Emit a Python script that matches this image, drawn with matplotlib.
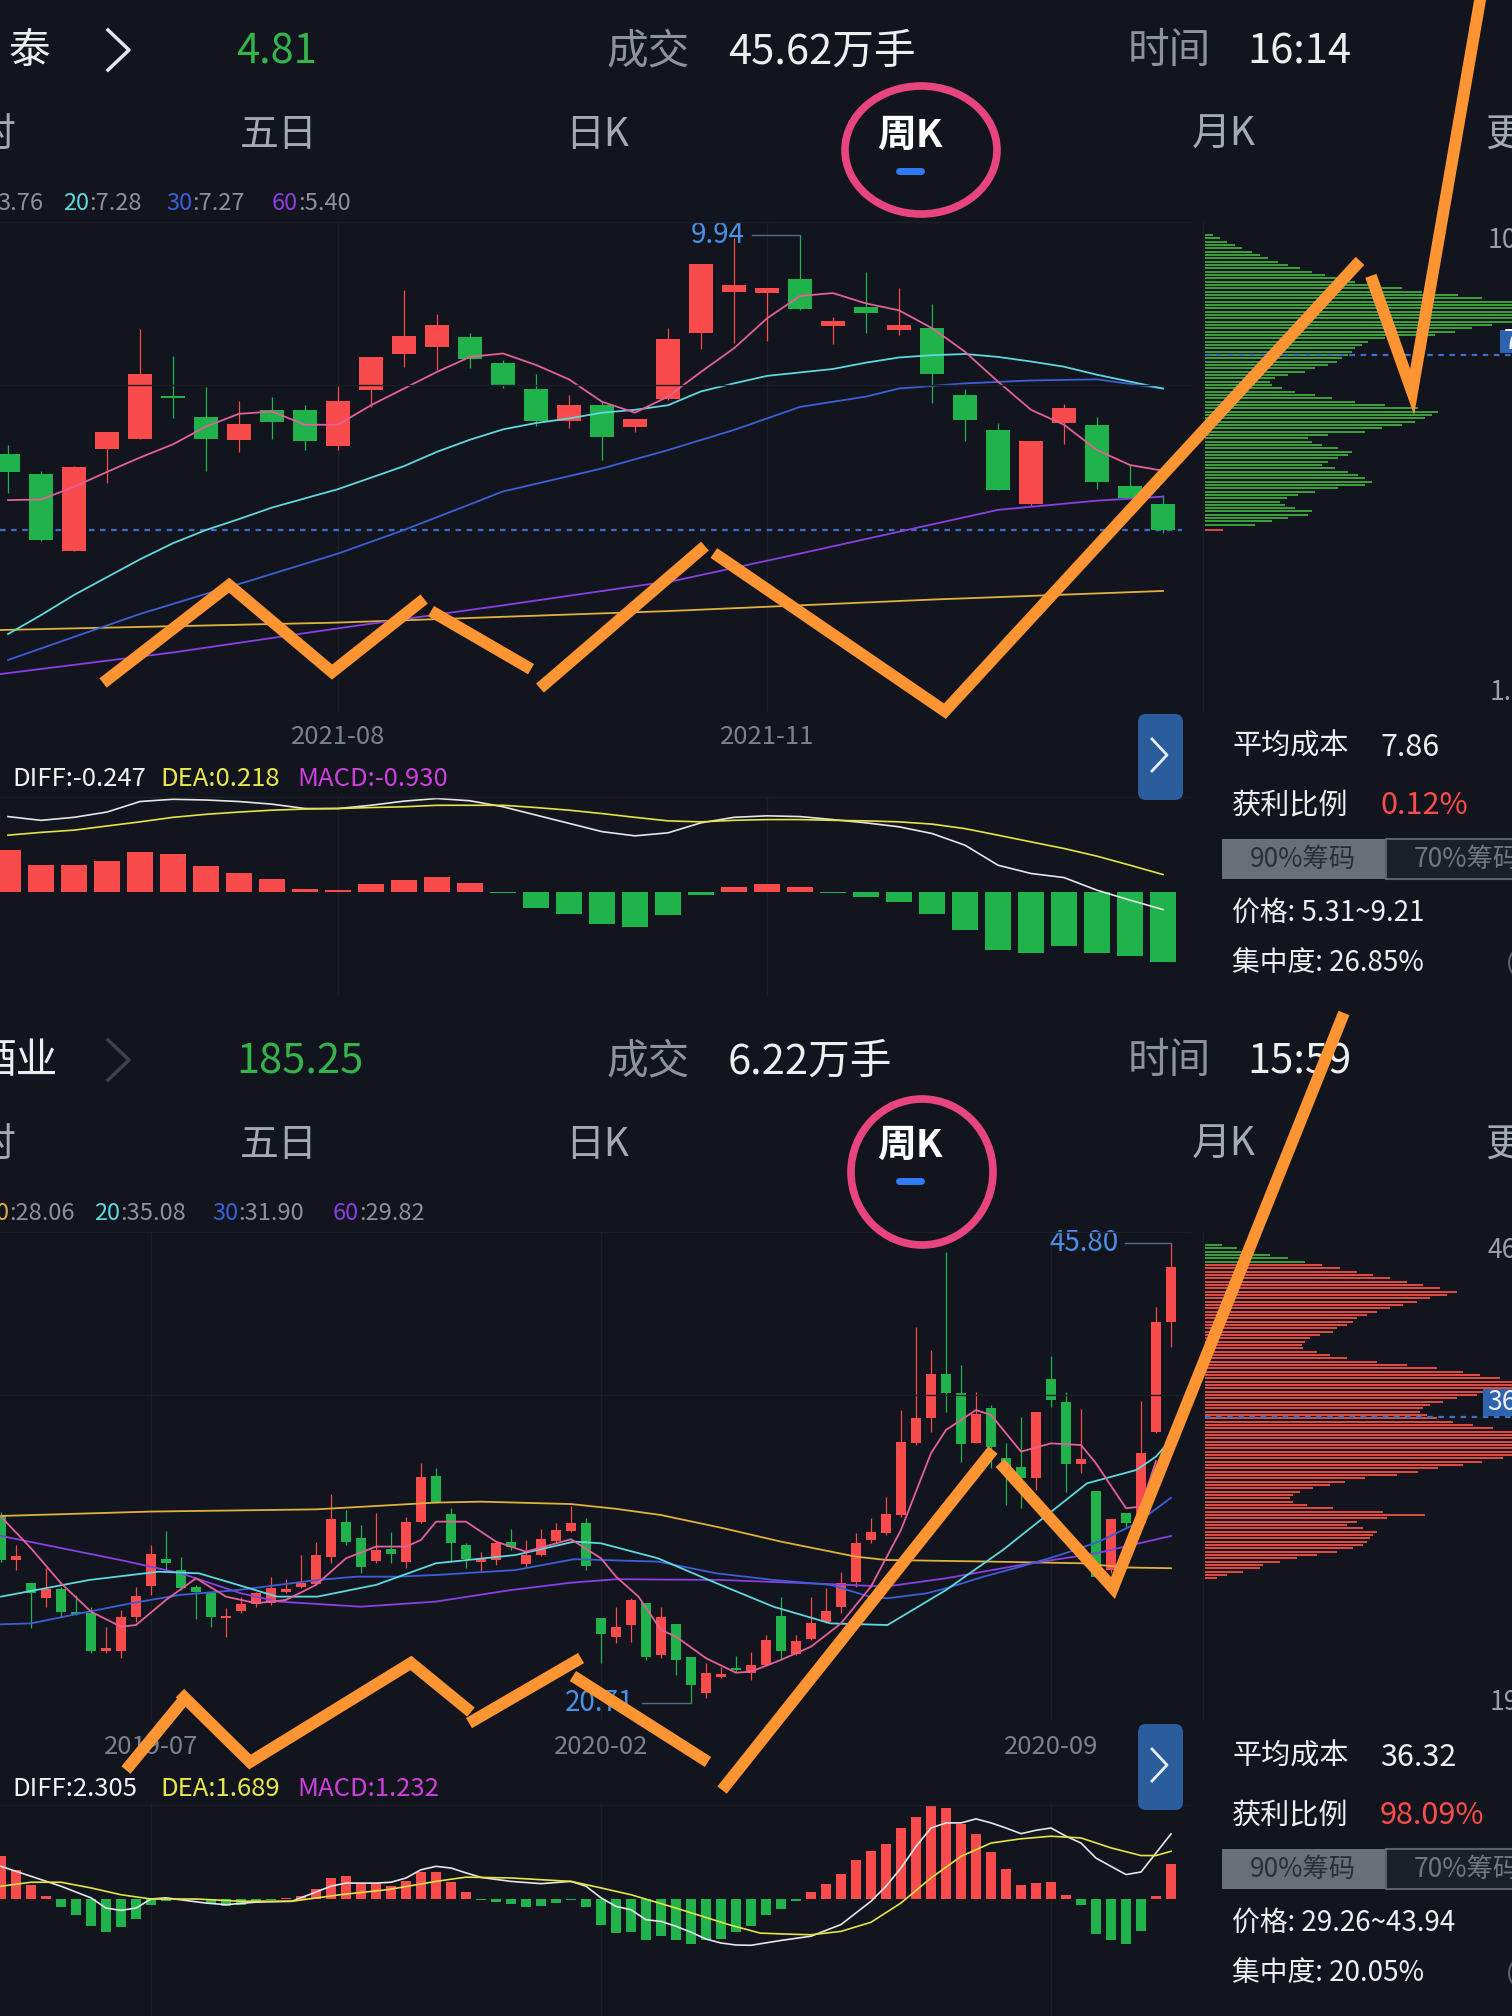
import numpy as np
import matplotlib
matplotlib.use("Agg")
import matplotlib.pyplot as plt
from matplotlib.patches import Ellipse, Rectangle, FancyBboxPatch, Circle
from matplotlib.transforms import blended_transform_factory

plt.rcParams['font.family'] = ['Noto Sans CJK SC', 'DejaVu Sans']

W, H = 1512, 2016
BG = '#12151d'
RED = '#f94a4c'
GREEN = '#20b24b'
GRID = '#1b1f28'
GRAY = '#8e929b'
WHITE = '#eeeeee'
ORANGE = '#ff9433'
PINK_C = '#e8457e'
MA_PINK, MA_CYAN, MA_BLUE, MA_PURPLE, MA_GOLD = '#e3609b', '#5fd8e0', '#3c5fd8', '#8a3fe4', '#e2b03c'

# ---------------- top stock, weekly candles ----------------
top_open = [6.14, 5.78, 4.45, 6.21, 6.39, 7.13, 6.77, 6.38, 6.89, 6.90, 6.27, 7.24, 7.87, 7.99, 8.16, 7.71, 7.27, 6.71,
            6.98, 6.60, 7.08, 8.24, 8.95, 8.94, 9.18, 8.36, 8.69, 8.28, 8.33, 7.16, 6.55, 5.27, 6.67, 6.64, 5.58, 5.27]
top_high = [6.29, 5.84, 5.93, 6.51, 8.31, 7.84, 7.29, 7.05, 7.13, 6.99, 7.32, 7.81, 8.99, 8.57, 8.23, 7.77, 7.53, 7.15,
            7.04, 6.74, 8.32, 9.43, 9.88, 9.02, 9.94, 8.52, 9.30, 9.01, 8.74, 7.27, 6.67, 6.35, 7.00, 6.77, 5.94, 5.41]
top_low = [5.45, 4.62, 4.45, 5.62, 6.39, 6.75, 5.83, 6.16, 6.39, 6.20, 6.20, 6.95, 7.65, 7.59, 7.63, 7.28, 6.61, 6.58,
           6.03, 6.52, 7.07, 7.95, 8.06, 8.09, 8.64, 8.04, 8.24, 8.20, 7.01, 6.36, 5.51, 5.23, 6.30, 5.52, 5.37, 4.75]
top_close = [5.82, 4.64, 5.91, 6.51, 7.52, 7.10, 6.39, 6.65, 6.69, 6.36, 7.06, 7.81, 8.18, 8.37, 7.78, 7.33, 6.71, 6.98,
             6.42, 6.74, 8.13, 9.43, 9.07, 9.02, 8.65, 8.44, 8.58, 8.37, 7.52, 6.72, 5.51, 6.35, 6.94, 5.64, 5.37, 4.81]

top_ma5 = [5.33, 5.34, 5.56, 5.82, 6.07, 6.30, 6.61, 6.83, 6.87, 6.64, 6.64, 6.98, 7.27, 7.56, 7.82, 7.88, 7.68, 7.43,
           7.04, 6.85, 7.13, 7.56, 7.97, 8.49, 8.88, 8.93, 8.75, 8.63, 8.32, 7.91, 7.39, 6.90, 6.64, 6.20, 5.94, 5.84]
top_ma20 = [3.00, 3.33, 3.68, 3.99, 4.30, 4.58, 4.81, 5.00, 5.20, 5.36, 5.52, 5.72, 5.92, 6.17, 6.38, 6.56, 6.67, 6.75,
            6.85, 6.90, 6.98, 7.22, 7.36, 7.49, 7.55, 7.61, 7.72, 7.81, 7.85, 7.87, 7.82, 7.74, 7.65, 7.51, 7.39, 7.27]
top_ma30 = [(0, 2.55), (2, 2.95), (4, 3.35), (6, 3.70), (7.4, 3.94), (10, 4.40), (12, 4.81), (15, 5.48), (18, 5.88),
            (20, 6.20), (22, 6.55), (24, 6.95), (26, 7.13), (27, 7.27), (29, 7.36), (31, 7.41), (33, 7.43), (35, 7.27)]
top_ma60 = [(-0.3, 2.30), (5, 2.68), (10, 3.10), (15, 3.50), (20.3, 3.94), (24, 4.40), (27, 4.78), (30, 5.16),
            (33, 5.32), (35, 5.39)]
top_ma_long = [(-0.3, 3.07), (10, 3.20), (20, 3.40), (28, 3.60), (35, 3.75)]

top_hist = [0.562, 0.354, 0.363, 0.407, 0.523, 0.50, 0.35, 0.257, 0.168, 0.044, 0.031, 0.102, 0.164, 0.199, 0.12,
            -0.013, -0.208, -0.297, -0.43, -0.465, -0.31, -0.044, 0.058, 0.10, 0.058, -0.013, -0.066, -0.133,
            -0.288, -0.50, -0.766, -0.806, -0.722, -0.806, -0.855, -0.930]
top_diff = [1.00, 0.95, 0.99, 1.06, 1.20, 1.23, 1.22, 1.20, 1.165, 1.107, 1.107, 1.15, 1.205, 1.24, 1.21, 1.13, 1.02,
            0.91, 0.80, 0.744, 0.784, 0.917, 0.99, 1.01, 1.00, 0.96, 0.917, 0.864, 0.775, 0.62, 0.354, 0.244, 0.19,
            0.022, -0.11, -0.235]
top_dea = [0.753, 0.79, 0.82, 0.875, 0.93, 0.99, 1.03, 1.06, 1.085, 1.10, 1.107, 1.12, 1.13, 1.15, 1.15, 1.15, 1.12,
           1.085, 1.04, 0.99, 0.943, 0.93, 0.95, 0.96, 0.96, 0.95, 0.943, 0.93, 0.90, 0.84, 0.753, 0.664, 0.576,
           0.474, 0.354, 0.23]

top_chip_hi, top_chip_lo = 9.94, 4.90
top_chip_w = [25, 45, 65, 90, 110, 140, 165, 190, 220, 250, 285, 320, 360, 400, 450, 520, 590, 650, 760, 830,
              950, 1000, 1000, 990, 980, 960, 920, 860, 800, 750, 690, 540, 490, 470, 450, 440, 430, 410, 395, 370,
              330, 300, 250, 210, 195, 200, 230, 270, 330, 380, 450, 540, 640, 700, 680, 660, 630, 590, 530, 480,
              370, 310, 320, 350, 400, 440, 430, 400, 370, 350, 390, 430, 460, 480, 500, 480, 400, 330, 280, 245,
              225, 240, 270, 320, 310, 250, 200, 150]
top_last, top_avg = 4.81, 7.86
top_dates, top_date_idx = ['2021-08', '2021-11'], [10, 23]

# ---------------- bottom stock, weekly candles ----------------
bot_open = [30.96, 28.51, 27.27, 26.42, 26.91, 25.64, 25.60, 23.56, 23.56, 25.38, 27.09, 28.56, 27.96, 27.05, 26.69,
            25.33, 25.75, 26.11, 26.15, 26.75, 27.02, 27.20, 28.69, 30.60, 29.69, 28.47, 29.09, 28.42, 30.60, 33.11,
            31.02, 29.33, 28.42, 28.51, 29.51, 28.29, 28.78, 29.56, 30.09, 30.55, 25.33, 24.33, 24.96, 26.15, 23.33,
            25.00, 23.24, 21.24, 22.11, 22.60, 22.33, 22.78, 25.47, 23.38, 24.18, 25.15, 25.93, 27.33, 29.60, 30.00,
            30.96, 34.87, 36.24, 38.64, 37.60, 34.91, 36.78, 34.09, 33.60, 32.99, 38.38, 37.11, 33.73, 32.27, 27.96,
            31.06, 30.51, 35.51, 41.51]
bot_high = [31.15, 29.33, 27.27, 28.06, 27.06, 26.60, 25.96, 24.87, 25.78, 27.06, 29.33, 30.11, 28.69, 27.15, 26.78,
            25.87, 26.51, 26.78, 27.60, 27.46, 28.78, 29.51, 32.09, 31.24, 30.42, 31.06, 30.06, 30.84, 33.78, 33.51,
            31.33, 29.42, 28.96, 29.51, 30.18, 29.60, 30.18, 30.51, 31.46, 30.78, 25.33, 25.96, 26.42, 26.15, 25.96,
            25.00, 23.24, 22.87, 22.69, 23.27, 23.51, 24.42, 26.51, 24.42, 26.51, 26.96, 27.87, 29.96, 30.78, 31.96,
            36.69, 41.24, 39.96, 45.33, 39.15, 37.69, 36.96, 34.87, 36.33, 36.56, 39.64, 37.66, 36.73, 32.27, 30.75,
            31.06, 37.18, 42.33, 45.80]
bot_low = [28.42, 27.96, 24.78, 25.96, 25.42, 25.51, 23.42, 23.46, 23.15, 25.15, 26.60, 27.96, 26.87, 25.27, 24.87,
           24.33, 25.60, 25.96, 26.06, 26.69, 26.96, 27.15, 28.33, 29.33, 27.82, 28.36, 28.33, 28.06, 30.51, 31.60,
           28.42, 28.06, 27.87, 28.24, 29.06, 28.15, 28.73, 29.42, 30.06, 27.96, 22.87, 23.96, 24.05, 23.06, 23.15,
           22.24, 20.71, 20.96, 22.05, 22.42, 21.96, 22.73, 23.06, 23.33, 24.15, 25.05, 25.60, 27.06, 29.42, 29.87,
           30.87, 34.78, 35.51, 36.60, 33.87, 34.87, 33.51, 31.51, 31.33, 32.33, 36.87, 32.24, 33.24, 27.60, 27.78,
           30.24, 30.15, 35.42, 40.15]
bot_close = [28.51, 28.73, 26.73, 26.91, 25.69, 25.56, 23.56, 23.69, 25.42, 26.56, 28.84, 28.36, 26.96, 26.78, 25.42,
             25.42, 26.11, 26.69, 26.96, 26.93, 27.27, 28.78, 30.73, 29.51, 28.11, 29.06, 28.84, 30.60, 33.06, 31.69,
             29.46, 28.55, 28.60, 29.42, 29.20, 28.78, 29.64, 30.15, 30.51, 28.18, 24.47, 24.87, 26.33, 23.24, 25.42,
             23.06, 21.69, 22.33, 22.27, 22.51, 22.78, 24.15, 23.56, 24.11, 25.09, 25.73, 27.24, 29.42, 30.06, 31.02,
             34.93, 36.24, 38.64, 37.60, 34.82, 36.47, 34.69, 33.42, 32.96, 36.56, 37.24, 33.73, 34.00, 27.60, 30.75,
             30.51, 34.36, 41.47, 44.51]

bot_ma5 = [(0, 30.87), (2, 29.15), (4, 27.24), (6, 25.69), (8, 24.87), (9, 24.96), (11, 26.33), (13, 27.51),
           (15, 26.51), (17, 26.15), (19, 26.33), (21, 27.15), (23, 28.60), (25, 29.24), (27, 29.24), (28, 29.60),
           (29, 30.60), (31, 30.60), (33, 29.51), (35, 28.96), (38, 29.64), (40, 28.60), (41, 27.60), (42.5, 26.51),
           (44, 24.69), (45, 24.33), (47, 23.15), (49, 22.36), (50, 22.42), (52, 23.06), (54, 23.78), (56, 25.05),
           (58, 27.06), (60, 30.15), (62, 34.33), (63, 35.60), (65, 36.69), (66, 36.42), (68, 34.42), (70, 34.87),
           (72, 34.78), (73, 33.78), (75, 31.33), (76, 31.42), (77, 33.90)]
bot_ma20 = [(0, 26.51), (5.9, 27.42), (10.5, 27.87), (13.2, 27.78), (15.8, 27.15), (18.4, 26.51), (21.1, 26.51),
            (25, 27.15), (29, 28.33), (34.3, 28.78), (38.2, 29.51), (40, 29.42), (43.8, 28.60), (47.7, 27.24),
            (51.5, 25.96), (55.3, 25.05), (59.1, 24.96), (63, 26.87), (66.8, 29.06), (72.4, 32.69), (75.7, 33.42),
            (77, 34.15), (78, 35.08)]
bot_ma30 = [(0, 25.00), (2, 25.05), (5.3, 25.60), (8.7, 26.15), (11.9, 26.60), (15.8, 26.87), (21.1, 27.42),
            (23.7, 27.60), (26.4, 27.60), (29, 27.69), (34.3, 27.96), (38.2, 28.55), (40, 28.51), (43.8, 28.42),
            (47.7, 27.78), (51.5, 27.42), (55.3, 27.15), (57.9, 26.51), (59.1, 26.42), (61.7, 26.69), (63, 26.96),
            (65.5, 27.60), (68, 28.15), (70.6, 28.78), (73.2, 29.51), (75.7, 30.51), (78, 31.90)]
bot_ma60 = [(0, 29.82), (8, 28.50), (12, 27.78), (16, 26.69), (18.5, 26.24), (24, 25.96), (29, 26.24), (34, 26.87),
            (38, 27.27), (41, 27.46), (48, 27.42), (55, 27.20), (59, 27.06), (63, 27.51), (68, 28.24), (73, 28.87),
            (78, 29.82)]
bot_ma_long = [(0, 30.91), (10, 31.15), (21, 31.27), (29, 31.64), (32, 31.69), (38, 31.56), (41, 31.30),
               (44, 30.96), (48, 30.27), (52, 29.51), (57, 28.69), (59, 28.51), (66, 28.42), (72, 28.33),
               (75, 28.10), (78, 28.06)]

bot_hist = [1.50, 1.03, 0.48, 0.12, -0.29, -0.55, -0.96, -1.16, -1.00, -0.70, -0.20, -0.06, 0.01, -0.03, -0.14,
            -0.26, -0.20, -0.14, -0.05, 0.04, 0.12, 0.36, 0.74, 0.80, 0.56, 0.56, 0.45, 0.62, 0.94, 0.95, 0.60,
            0.23, -0.02, -0.12, -0.18, -0.29, -0.23, -0.14, -0.04, -0.29, -0.90, -1.20, -1.17, -1.43, -1.29, -1.43,
            -1.57, -1.43, -1.41, -1.17, -0.95, -0.55, -0.35, -0.06, 0.23, 0.53, 0.89, 1.36, 1.70, 1.95, 2.50, 2.89,
            3.26, 3.20, 2.64, 2.30, 1.65, 1.07, 0.48, 0.55, 0.61, 0.13, -0.20, -1.22, -1.46, -1.58, -1.14, 0.12, 1.23]
bot_diff = [(0, 1.15), (2, 0.80), (4, 0.45), (6, 0.04), (7, -0.32), (8, -0.40), (9, -0.32), (10, 0.0), (11, 0.04),
            (13.6, -0.14), (15, -0.20), (17, -0.11), (19.4, -0.08), (22, 0.45), (23, 0.56), (25, 0.56), (26, 0.59),
            (27, 0.74), (28, 1.03), (29, 1.15), (30, 1.09), (31, 0.92), (32, 0.76), (34, 0.62), (36, 0.54),
            (38, 0.62), (39, 0.45), (40, 0.04), (41, -0.26), (42, -0.38), (43, -0.73), (44, -0.79), (45, -0.96),
            (46, -1.17), (47, -1.41), (48, -1.55), (49, -1.62), (50, -1.63), (52, -1.46), (54, -1.31), (56, -0.90),
            (57, -0.49), (58, -0.08), (59, 0.45), (60, 1.09), (61, 1.85), (62, 2.50), (63, 2.68), (64, 2.68),
            (65, 2.82), (66, 2.68), (67, 2.50), (68, 2.30), (69, 2.42), (70, 2.50), (71, 2.21), (72, 1.97),
            (73, 1.44), (74, 1.15), (75, 0.86), (76, 0.95), (77, 1.62), (78, 2.29)]
bot_dea = [(0, 0.45), (2, 0.59), (4, 0.59), (6, 0.39), (8, 0.15), (10, 0.0), (13, 0.0), (16, -0.08), (19.4, -0.08),
           (22.6, 0.15), (25.8, 0.33), (29, 0.62), (31, 0.77), (34, 0.74), (38, 0.62), (40, 0.39), (42, 0.15),
           (45, -0.32), (48.5, -0.90), (50.6, -1.20), (52, -1.23), (54, -1.26), (56, -1.14), (58, -0.82),
           (60, -0.14), (62, 0.74), (64, 1.50), (66, 1.97), (68, 2.12), (70, 2.21), (72, 2.15), (74, 1.80),
           (76, 1.53), (77, 1.53), (78, 1.68)]

bot_chip_hi, bot_chip_lo = 45.69, 27.51
bot_chip_w = [50, 95, 145, 195, 250, 300, 350, 405, 455, 505, 555, 605, 655, 705, 755, 725, 675, 635, 595, 555,
              515, 485, 455, 445, 425, 395, 385, 345, 315, 300, 290, 295, 335, 375, 425, 515, 605, 695, 775, 825,
              885, 1000, 1050, 1000, 900, 815, 755, 715, 675, 655, 645, 665, 695, 745, 805, 865, 950, 1000, 1050, 1050,
              1050, 1000, 950, 920, 895, 830, 775, 700, 640, 575, 480, 420, 375, 325, 285, 265, 255, 265, 305, 385,
              535, 660, 545, 455, 425, 475, 515, 505, 495, 485, 475, 445, 395, 335, 275, 225, 175, 165, 115, 65, 35]
bot_chip_green = 6
bot_avg = 36.32
bot_dates, bot_date_idx = ['2019-07', '2020-02', '2020-09'], [10, 40, 70]

# hand drawn orange strokes, in (candle index, price) of each chart
top_strokes = [[(2.88, 2.15), (6.70, 3.85), (9.82, 2.34), (12.61, 3.61)],
               [(12.82, 3.40), (15.85, 2.39)],
               [(16.12, 2.06), (21.12, 4.53)],
               [(21.39, 4.41), (28.39, 1.66), (40.97, 9.49)],
               [(41.30, 9.23), (42.55, 7.21), (44.64, 14.13)]]
bot_strokes = [[(8.33, 17.05), (12.33, 21.03)],
               [(11.93, 21.25), (16.6, 17.49), (27.33, 22.89), (31.33, 20.21)],
               [(31.2, 19.61), (38.67, 23.16)],
               [(38.13, 22.18), (47.13, 17.49)],
               [(48.07, 15.96), (66.13, 34.51)],
               [(66.6, 33.80), (74.13, 26.98), (89.53, 58.35)]]

# ---------------- figure ----------------
fig = plt.figure(figsize=(W / 100, H / 100), dpi=100, facecolor=BG)


def px_axes(x0, y0, x1, y1, z):
    ax = fig.add_axes([x0 / W, 1 - y1 / H, (x1 - x0) / W, (y1 - y0) / H])
    ax.set_axis_off()
    ax.set_zorder(z)
    return ax


def draw_candles(ax, o, h, l, c, width):
    o, h, l, c = (np.asarray(v, float) for v in (o, h, l, c))
    x = np.arange(len(o))
    cols = np.where(c >= o, RED, GREEN)
    ax.vlines(x, l, h, colors=cols, linewidth=0.9, zorder=2)
    lo, hi = ax.get_ylim()
    body = np.maximum(np.abs(c - o), (hi - lo) * 0.004)
    ax.bar(x, body, width, np.minimum(o, c), color=cols, linewidth=0, zorder=3)


def draw_line(ax, pts, color, lw=1.3):
    if isinstance(pts[0], tuple):
        xs, ys = zip(*pts)
    else:
        xs, ys = np.arange(len(pts)), pts
    ax.plot(xs, ys, color=color, lw=lw, zorder=4)


def draw_chips(ax, hi, lo, widths, cols):
    y = np.linspace(hi, lo, len(widths))
    step = (hi - lo) / (len(widths) - 1)
    ax.barh(y, widths, height=step * 0.6, left=0, color=cols, linewidth=0)


def draw_macd(ax, hist, diff, dea, width):
    hist = np.asarray(hist)
    x = np.arange(len(hist))
    ax.bar(x, hist, width, color=np.where(hist >= 0, RED, GREEN), linewidth=0)
    draw_line(ax, diff, '#e6e6e6', 1.2)
    draw_line(ax, dea, '#e4e447', 1.2)


# --- top panel axes
ax1 = px_axes(0, 222, 1190, 712, 2)
ax1.set_xlim(-8 / 33, 1182 / 33)
ax1.set_ylim(1.645, 10.166)
axc1 = px_axes(1205, 222, 1512, 712, 1)
axc1.set_xlim(0, 921)
axc1.set_ylim(1.645, 10.166)
axm1 = px_axes(0, 797, 1190, 995, 2)
axm1.set_xlim(-8 / 33, 1182 / 33)
axm1.set_ylim(-1.37, 1.26)

# --- bottom panel axes
ax2 = px_axes(0, 1232, 1190, 1720, 2)
ax2.set_xlim(-1 / 15, 1189 / 15)
ax2.set_ylim(19.78, 46.40)
axc2 = px_axes(1205, 1232, 1512, 1720, 1)
axc2.set_xlim(0, 921)
axc2.set_ylim(19.78, 46.40)
axm2 = px_axes(0, 1803, 1190, 2016, 2)
axm2.set_xlim(-1 / 15, 1189 / 15)
axm2.set_ylim(-4.12, 3.38)

for ax, idxs in ((ax1, top_date_idx), (axm1, top_date_idx), (ax2, bot_date_idx), (axm2, bot_date_idx)):
    for i in idxs:
        ax.axvline(i, color=GRID, lw=1, zorder=0)

# candles, MAs
draw_candles(ax1, top_open, top_high, top_low, top_close, 0.74)
for pts, col in ((top_ma_long, MA_GOLD), (top_ma60, MA_PURPLE), (top_ma30, MA_BLUE), (top_ma20, MA_CYAN),
                 (top_ma5, MA_PINK)):
    draw_line(ax1, pts, col)
ax1.axhline(top_last, xmax=0.993, color='#3f6fc2', lw=1.6, ls=(0, (2.5, 2.5)), zorder=1)
ax1.text(22.33, 9.94, '9.94', color='#4b8fe6', fontsize=20, ha='right', va='center')
ax1.plot([22.55, 24], [9.94, 9.94], color='#56698f', lw=1)

draw_candles(ax2, bot_open, bot_high, bot_low, bot_close, 0.66)
for pts, col in ((bot_ma_long, MA_GOLD), (bot_ma60, MA_PURPLE), (bot_ma30, MA_BLUE), (bot_ma20, MA_CYAN),
                 (bot_ma5, MA_PINK)):
    draw_line(ax2, pts, col)
ax2.text(74.5, 45.80, '45.80', color='#4b8fe6', fontsize=20, ha='right', va='center')
ax2.plot([74.9, 78], [45.80, 45.80], color='#56698f', lw=1)
ax2.text(42.2, 20.71, '20.71', color='#4b8fe6', fontsize=20, ha='right', va='center')
ax2.plot([42.7, 46], [20.71, 20.71], color='#56698f', lw=1)

# chips
draw_chips(axc1, top_chip_hi, top_chip_lo, top_chip_w, '#3b9d3a')
axc1.barh([top_last], [55], height=0.035, color='#d9463f', linewidth=0)
axc1.axhline(top_avg, color='#3f6fc2', lw=1.6, ls=(0, (2.5, 2.5)))
n_red = len(bot_chip_w) - bot_chip_green
draw_chips(axc2, bot_chip_hi, bot_chip_lo, bot_chip_w, ['#3b9d3a'] * bot_chip_green + ['#dc4a40'] * n_red)
axc2.axhline(bot_avg, color='#3f6fc2', lw=1.6, ls=(0, (2.5, 2.5)))

# macd
draw_macd(axm1, top_hist, list(top_diff), list(top_dea), 0.76)
draw_macd(axm2, bot_hist, bot_diff, bot_dea, 0.64)

# ---------------- overlay (pixel coordinates) ----------------
ov = fig.add_axes([0, 0, 1, 1])
ov.set_xlim(0, W)
ov.set_ylim(H, 0)
ov.set_axis_off()
ov.set_zorder(10)

for y in (222, 385, 797, 1232, 1395, 1805):
    ov.plot([0, 1190], [y, y], color=GRID, lw=1, zorder=0)
for y0, y1 in ((222, 712), (1232, 1720)):
    ov.plot([1203, 1203], [y0, y1], color=GRID, lw=1, zorder=0)


def put(x, y, s, size, color, ha='left', weight='normal'):
    return ov.text(x, y, s, fontsize=size, color=color, ha=ha, va='center', weight=weight, zorder=3)


def put_seq(x, y, parts, size):
    r = fig.canvas.get_renderer()
    for s, col in parts:
        t = put(x, y, s, size, col)
        x += t.get_window_extent(renderer=r).width


def panel(dy, name, name_x, name_col, price, vol, tm, legend, diffs, dates_idx, dates, axp, avg, profit, rng,
          conc, lab_top, lab_bot, tag):
    # header row
    put(name_x, 52 + dy, name, 30, WHITE, ha='right')
    ov.plot([108, 129, 108], [30 + dy, 50 + dy, 70 + dy], color=name_col, lw=2.5, zorder=3)
    put(236, 52 + dy, price, 30, '#33b34a')
    put(607, 52 + dy, '成交', 30, GRAY)
    put(728, 52 + dy, vol, 30, WHITE)
    put(1128, 52 + dy, '时间', 30, GRAY)
    put(1247, 52 + dy, tm, 30, WHITE)
    # tabs
    put(16, 135 + dy, '时', 28, '#a5a9b1', ha='right')
    for s, x in (('五日', 279), ('日K', 597), ('月K', 1224)):
        put(x, 135 + dy, s, 28, '#a5a9b1', ha='center')
    put(910, 135 + dy, '周K', 28, '#ffffff', ha='center', weight='bold')
    put(1485, 135 + dy, '更', 28, '#a5a9b1')
    ov.plot([899, 921], [171 + dy, 171 + dy], color='#2f7cf6', lw=5, solid_capstyle='round', zorder=3)
    # MA legend
    for x, parts in legend:
        put_seq(x, 204 + dy, parts, 17)
    # right axis labels
    put(1488, 240 + dy, lab_top, 19, '#9a9ea6')
    put(1490, 692 + dy, lab_bot, 19, '#9a9ea6')
    # date labels
    tr = blended_transform_factory(axp.transData, ov.transData)
    for i, s in zip(dates_idx, dates):
        ov.text(i, 737 + dy, s, fontsize=18.5, color='#7c818b', ha='center', va='center', transform=tr, zorder=3)
    # macd legend
    for x, s, col in zip((12, 160, 297), diffs, ('#f2f2f2', '#e8e84a', '#cf3fe0')):
        put(x, 779 + dy, s, 18.5, col)
    # blue arrow button
    ov.add_patch(FancyBboxPatch((1138, 714 + dy), 45, 86, boxstyle='round,pad=0,rounding_size=8',
                                fc='#2b5d9c', ec='none', zorder=3))
    ov.plot([1152, 1167, 1152], [739 + dy, 755 + dy, 771 + dy], color='#e8eef8', lw=2, zorder=4)
    # avg cost tag
    ov.add_patch(Rectangle((tag[0], tag[1] + dy), 60, tag[2], fc='#2e63b0', ec='none', zorder=3))
    put(tag[0] + 4, tag[1] + dy + tag[2] / 2, tag[3], 19, WHITE)
    # right info panel
    put(1232, 747 + dy, '平均成本', 21, WHITE)
    put(1380, 747 + dy, avg, 22, WHITE)
    put(1232, 805 + dy, '获利比例', 21, WHITE)
    put(1380, 805 + dy, profit, 22, '#ff4b4b')
    ov.add_patch(Rectangle((1222, 839 + dy), 164, 40, fc='#6a6e77', ec='none', zorder=2))
    ov.add_patch(Rectangle((1386, 839 + dy), 140, 40, fc='#1b1f28', ec='#5c6069', lw=1.5, zorder=2))
    put(1303, 859 + dy, '90%筹码', 19, '#2a2e36', ha='center')
    put(1414, 859 + dy, '70%筹码', 19, '#72767e')
    put(1232, 913 + dy, rng, 20, WHITE)
    put(1232, 963 + dy, conc, 20, WHITE)
    ov.add_patch(Circle((1526, 963 + dy), 17, fill=False, ec='#5c6069', lw=1.5, zorder=3))


panel(0, '泰', 50, '#e6e6e6', '4.81', '45.62万手', '16:14',
      [(-3, [('3.76', GRAY)]), (63, [('20', MA_CYAN), (':7.28', GRAY)]),
       (166, [('30', MA_BLUE), (':7.27', GRAY)]), (272, [('60', MA_PURPLE), (':5.40', GRAY)])],
      ['DIFF:-0.247', 'DEA:0.218', 'MACD:-0.930'], top_date_idx, top_dates, ax1,
      '7.86', '0.12%', '价格: 5.31~9.21', '集中度: 26.85%', '10.17', '1.65', (1500, 330, 23, '7.86'))

panel(1010, '酒业', 58, '#3d424c', '185.25', '6.22万手', '15:59',
      [(-4, [('0', MA_GOLD), (':28.06', GRAY)]), (94, [('20', MA_CYAN), (':35.08', GRAY)]),
       (212, [('30', MA_BLUE), (':31.90', GRAY)]), (333, [('60', MA_PURPLE), (':29.82', GRAY)])],
      ['DIFF:2.305', 'DEA:1.689', 'MACD:1.232'], bot_date_idx, bot_dates, ax2,
      '36.32', '98.09%', '价格: 29.26~43.94', '集中度: 20.05%', '46.40', '19.78', (1483, 379, 27, '36.32'))

# pink circles around 周K
ov.add_patch(Ellipse((921, 150), 152, 128, fill=False, ec=PINK_C, lw=5.5, zorder=6))
ov.add_patch(Ellipse((922, 1172), 142, 146, fill=False, ec=PINK_C, lw=5.5, zorder=6))

# orange hand drawn strokes
for ax, strokes in ((ax1, top_strokes), (ax2, bot_strokes)):
    for s in strokes:
        xs, ys = zip(*s)
        ov.plot(xs, ys, color=ORANGE, lw=8.5, transform=ax.transData, clip_on=False,
                solid_joinstyle='miter', solid_capstyle='butt', zorder=5)

fig.savefig('out.png', dpi=100, facecolor=BG)
